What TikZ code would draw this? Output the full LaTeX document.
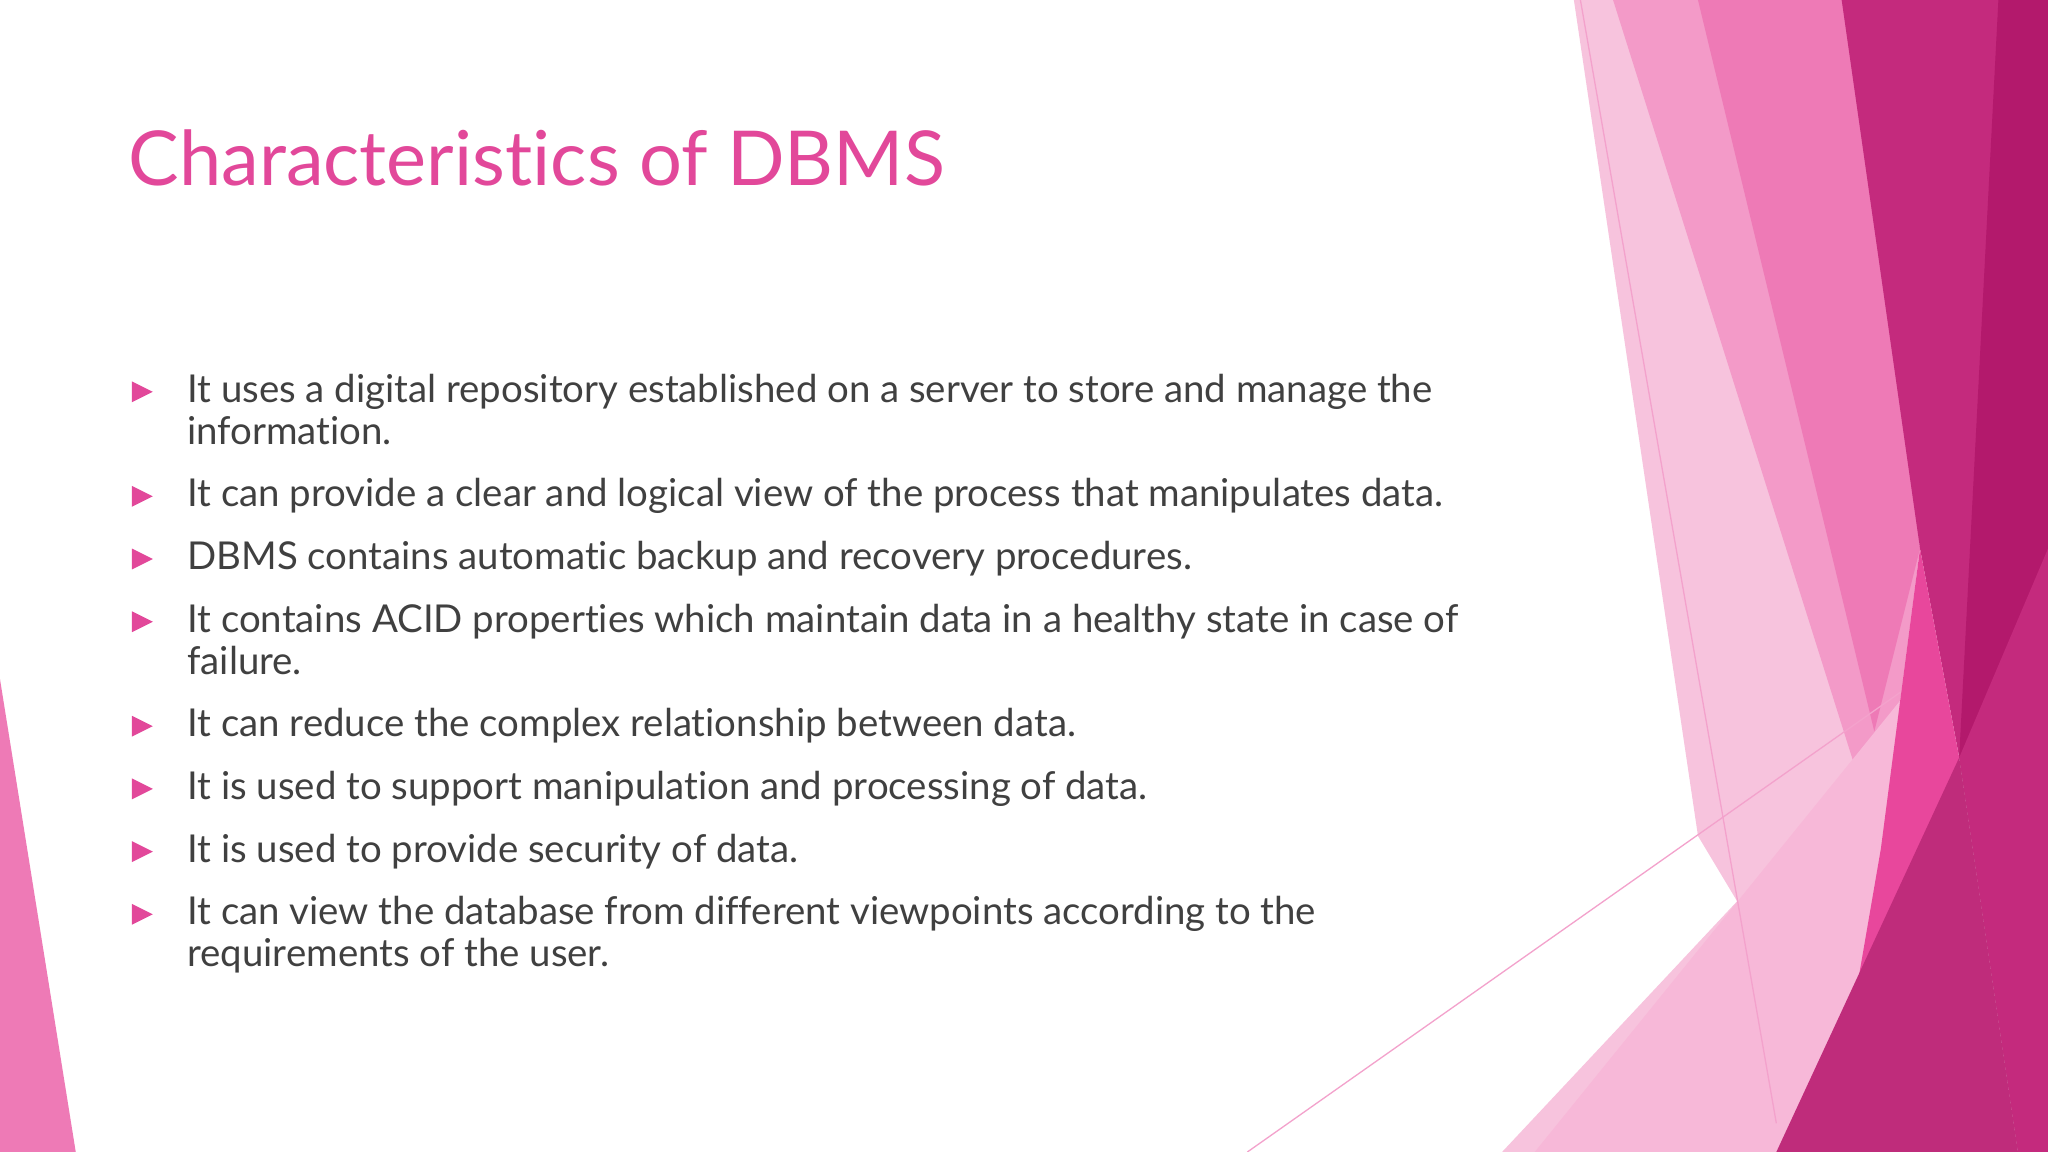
\documentclass[tikz,border=0pt]{standalone}
\usepackage{fontspec}
\setmainfont[Ligatures={NoCommon}]{Lato}
\definecolor{ttl}{HTML}{E2489A}
\definecolor{txt}{HTML}{404040}
\definecolor{p1}{HTML}{F7C3DD}
\definecolor{p2}{HTML}{F39AC8}
\definecolor{p3}{HTML}{EE7AB6}
\definecolor{p4}{HTML}{C42A7D}
\definecolor{p5}{HTML}{B3196C}
\definecolor{p6}{HTML}{E8479C}
\begin{document}
\begin{tikzpicture}[x=0.5pt,y=-0.5pt,
  bul/.style={anchor=north west,align=left,font=\fontsize{14.7}{16}\selectfont,text=txt,inner sep=0pt},
  tri/.style={fill=ttl,draw=none}]
\useasboundingbox (0,0) rectangle (1568,882);
\fill[white] (0,0) rectangle (1568,882);
% right decoration
\fill[p1] (1205,0) -- (1420,0) -- (1480,560) -- (1420,882) -- (1150,882) -- (1330,690) -- (1300,640) -- cycle;
\fill[p2] (1235,0) -- (1420,0) -- (1470,420) -- (1440,650) -- cycle;
\fill[p3] (1300,0) -- (1420,0) -- (1470,420) -- (1435,560) -- cycle;
\fill[p2!70] (1175,882) -- (1460,530) -- (1440,882) -- cycle;
\fill[p4] (1410,0) -- (1568,0) -- (1568,420) -- (1500,580) -- (1470,420) -- cycle;
\fill[p5] (1530,0) -- (1568,0) -- (1568,882) -- (1545,882) -- (1500,580) -- cycle;
\fill[p6] (1470,420) -- (1500,580) -- (1440,882) -- (1400,882) -- (1440,650) -- cycle;
\fill[p4] (1500,580) -- (1568,420) -- (1568,882) -- (1545,882) -- cycle;
\fill[p5!80!p3] (1360,882) -- (1500,580) -- (1545,882) -- cycle;
\draw[p3!70,line width=0.5pt] (1210,0) -- (1360,860);
\draw[p3!70,line width=0.5pt] (955,882) -- (1455,530);
% left sliver
\fill[p3] (0,520) -- (58,882) -- (0,882) -- cycle;
% title
\node[anchor=base west,inner sep=0pt,text=ttl,font=\fontsize{29}{34}\selectfont] (title) at (98,142) {Characteristics of DBMS};
% bullets
\foreach \y/\t [count=\i] in {
 286/{It uses a digital repository established on a server to store and manage the\\information.},
 366/{It can provide a clear and logical view of the process that manipulates data.},
 414/{DBMS contains automatic backup and recovery procedures.},
 462/{It contains ACID properties which maintain data in a healthy state in case of\\failure.},
 542/{It can reduce the complex relationship between data.},
 590/{It is used to support manipulation and processing of data.},
 638/{It is used to provide security of data.},
 686/{It can view the database from different viewpoints according to the\\requirements of the user.}}{
 \node[bul] (b\i) at (143,\y) {\t};
 \fill[ttl] (101,\y+6) -- (117,\y+14) -- (101,\y+22) -- cycle;
}
\end{tikzpicture}
\end{document}
